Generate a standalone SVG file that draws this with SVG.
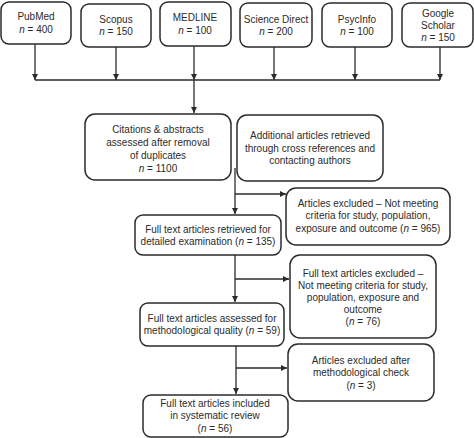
<svg xmlns="http://www.w3.org/2000/svg" width="474" height="438" viewBox="0 0 474 438">
<defs>
<marker id="ah" markerUnits="userSpaceOnUse" markerWidth="6" markerHeight="6" refX="6" refY="3" orient="auto"><path d="M0,0 L6,3 L0,6 z" fill="#2b2b2b"/></marker>
<style>
.box{fill:#fff;stroke:#2b2b2b;stroke-width:1.5}
text{font-family:"Liberation Sans",Arial,sans-serif;font-size:10px;fill:#2b2b2b;text-anchor:middle}
.c{fill:none;stroke:#2b2b2b;stroke-width:1.3}
.a{marker-end:url(#ah)}
</style>
</defs>
<rect width="474" height="438" fill="#fff"/>
<g id="connectors">
<path class="c a" d="M35,44 V80"/>
<path class="c a" d="M116,47 V80"/>
<path class="c a" d="M194,46 V80"/>
<path class="c a" d="M274,47 V80"/>
<path class="c a" d="M355,47 V80"/>
<path class="c a" d="M440,47 V80"/>
<path class="c" d="M35,80 H440"/>
<path class="c a" d="M194,80 V113"/>
<path class="c a" d="M235,168 V214"/>
<path class="c a" d="M235,194 H286"/>
<path class="c a" d="M235,255 V302"/>
<path class="c a" d="M235,279 H289"/>
<path class="c a" d="M236,346 V394"/>
<path class="c a" d="M236,368 H287"/>
</g>
<g id="pubmed"><rect class="box" x="1" y="2" width="70" height="42" rx="8"/><text x="36" y="20">PubMed</text><text x="36" y="33"><tspan font-style="italic">n</tspan> = 400</text></g>
<g id="scopus"><rect class="box" x="81" y="4" width="70" height="43" rx="8"/><text x="116" y="23">Scopus</text><text x="116" y="35"><tspan font-style="italic">n</tspan> = 150</text></g>
<g id="medline"><rect class="box" x="160" y="2" width="71" height="44" rx="8"/><text x="195" y="21">MEDLINE</text><text x="195" y="34"><tspan font-style="italic">n</tspan> = 100</text></g>
<g id="sciencedirect"><rect class="box" x="240" y="3" width="72" height="44" rx="8"/><text x="276" y="23">Science Direct</text><text x="276" y="35"><tspan font-style="italic">n</tspan> = 200</text></g>
<g id="psycinfo"><rect class="box" x="322" y="3" width="70" height="44" rx="8"/><text x="357" y="23">PsycInfo</text><text x="357" y="35"><tspan font-style="italic">n</tspan> = 100</text></g>
<g id="googlescholar"><rect class="box" x="402" y="3" width="71" height="44" rx="8"/><text x="438" y="17">Google</text><text x="438" y="29">Scholar</text><text x="438" y="41"><tspan font-style="italic">n</tspan> = 150</text></g>
<g id="citations"><rect class="box" x="85" y="114" width="146" height="66" rx="10"/><text x="158" y="133">Citations &amp; abstracts</text><text x="158" y="146">assessed after removal</text><text x="158" y="159">of duplicates</text><text x="158" y="172"><tspan font-style="italic">n</tspan> = 1100</text></g>
<g id="additional"><rect class="box" x="237" y="115" width="146" height="66" rx="10"/><text x="310" y="139">Additional articles retrieved</text><text x="310" y="152">through cross references and</text><text x="310" y="164">contacting authors</text></g>
<g id="excluded1"><rect class="box" x="286" y="188" width="164" height="57" rx="10"/><text x="368" y="207">Articles excluded – Not meeting</text><text x="368" y="219">criteria for study, population,</text><text x="368" y="232">exposure and outcome (<tspan font-style="italic">n</tspan> = 965)</text></g>
<g id="fulltext"><rect class="box" x="135" y="215" width="146" height="40" rx="8"/><text x="208" y="233">Full text articles retrieved for</text><text x="208" y="245">detailed examination (<tspan font-style="italic">n</tspan> = 135)</text></g>
<g id="excluded2"><rect class="box" x="290" y="255" width="146" height="83" rx="10"/><text x="363" y="277">Full text articles excluded –</text><text x="363" y="289">Not meeting criteria for study,</text><text x="363" y="301">population, exposure and</text><text x="363" y="313">outcome</text><text x="363" y="325">(<tspan font-style="italic">n</tspan> = 76)</text></g>
<g id="quality"><rect class="box" x="140" y="303" width="144" height="43" rx="8"/><text x="212" y="322">Full text articles assessed for</text><text x="212" y="334">methodological quality (<tspan font-style="italic">n</tspan> = 59)</text></g>
<g id="excluded3"><rect class="box" x="288" y="344" width="146" height="57" rx="10"/><text x="361" y="364">Articles excluded after</text><text x="361" y="376">methodological check</text><text x="361" y="389">(<tspan font-style="italic">n</tspan> = 3)</text></g>
<g id="included"><rect class="box" x="143" y="395" width="145" height="42" rx="8"/><text x="215" y="407">Full text articles included</text><text x="215" y="419">in systematic review</text><text x="215" y="432">(<tspan font-style="italic">n</tspan> = 56)</text></g>
</svg>
